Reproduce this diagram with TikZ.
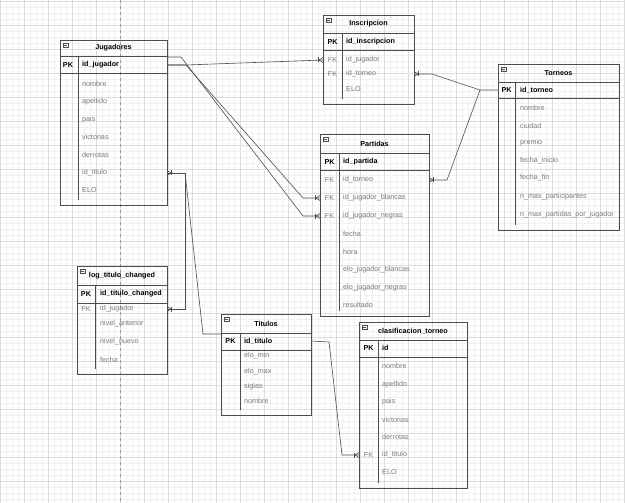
\documentclass[tikz,border=0pt]{standalone}
\usepackage{fontspec}
\setmainfont{Liberation Sans}
\definecolor{linec}{HTML}{4D4D4D}
\definecolor{txtgray}{HTML}{7A7A7A}
\definecolor{gridminor}{HTML}{F1F1F1}
\definecolor{gridmajor}{HTML}{DDDDDD}
\tikzset{
  tbl/.style={draw=linec, line width=0.7pt, anchor=north west, inner sep=0pt, outer sep=0pt},
  ttl/.style={font=\fontsize{7.2}{9}\selectfont\bfseries, text=black, inner sep=0pt},
  fld/.style={font=\fontsize{7.2}{9}\selectfont, text=txtgray, anchor=west, inner sep=0pt},
  pkf/.style={font=\fontsize{7.2}{9}\selectfont\bfseries, text=black, anchor=west, inner sep=0pt},
  keyl/.style={font=\fontsize{7.2}{9}\selectfont, text=txtgray, inner sep=0pt},
  pkl/.style={font=\fontsize{7.2}{9}\selectfont\bfseries, text=black, inner sep=0pt},
  sepl/.style={draw=linec, line width=0.7pt},
  conn/.style={draw=linec, line width=0.6pt},
}
% name, x1, x2, top, header bottom, pk bottom, bottom, divider x, title
\newcommand{\ertable}[9]{%
  \node[tbl, minimum width={#3-#2}, minimum height={#7-#4}] (#1) at (#2,#4) {};
  \draw[sepl] (#2,#5) -- (#3,#5);
  \draw[sepl, line width=1pt] (#2,#6) -- (#3,#6);
  \draw[sepl] (#8,#5) -- (#8,#7-5);
  \node[ttl] (#1-t) at ({(#2+#3)/2},{(#4+#5)/2}) {#9};
  \draw[linec, line width=0.4pt] (#2+3,#4+3) rectangle (#2+8,#4+7);
  \draw[linec, line width=0.4pt] (#2+4,#4+5) -- (#2+7,#4+5);
}
\newcommand{\crowL}[1]{%
  \draw[conn] ([shift={(0,-2.5)}]#1) -- ([shift={(-4,0)}]#1) -- ([shift={(0,2.5)}]#1);
  \draw[conn] ([shift={(-4.5,-2.5)}]#1) -- ([shift={(-4.5,2.5)}]#1);}
\newcommand{\crowR}[1]{%
  \draw[conn] ([shift={(0,-2.5)}]#1) -- ([shift={(4,0)}]#1) -- ([shift={(0,2.5)}]#1);
  \draw[conn] ([shift={(4.5,-2.5)}]#1) -- ([shift={(4.5,2.5)}]#1);}
\begin{document}
\begin{tikzpicture}[x=1pt, y=-1pt]
\useasboundingbox (0,0) rectangle (625,503);
\clip (0,0) rectangle (625,503);
\fill[white] (0,0) rectangle (625,503);
% grid
\foreach \x in {0,6,...,624} \draw[gridminor, line width=0.5pt] (\x,0) -- (\x,503);
\foreach \y in {1,7,...,503} \draw[gridminor, line width=0.5pt] (0,\y) -- (625,\y);
\foreach \x in {0,24,...,624} \draw[gridmajor, line width=0.5pt] (\x,0) -- (\x,503);
\foreach \y in {1,25,...,503} \draw[gridmajor, line width=0.5pt] (0,\y) -- (625,\y);
\draw[gray!80, line width=0.5pt, dash pattern=on 3pt off 3pt] (120,0) -- (120,503);

% ---------- Jugadores
\ertable{jug}{60}{167}{40}{56}{74}{205}{78}{Jugadores}
\node[pkl] (jug-k0) at (68,65) {PK};
\node[pkf] (jug-f0) at (82,65) {id\_jugador};
\node[fld] (jug-f1) at (82,84) {nombre};
\node[fld] (jug-f2) at (82,102) {apellido};
\node[fld] (jug-f3) at (82,120) {pais};
\node[fld] (jug-f4) at (82,137) {victorias};
\node[fld] (jug-f5) at (82,155) {derrotas};
\node[fld] (jug-f6) at (82,173) {id\_titulo};
\node[fld] (jug-f7) at (82,190) {ELO};

% ---------- Inscripcion
\ertable{ins}{323}{414}{15}{33}{51}{104}{342}{Inscripcion}
\node[pkl] (ins-k0) at (332.5,42) {PK};
\node[pkf] (ins-f0) at (346,42) {id\_inscripcion};
\node[keyl] (ins-k1) at (332.5,60) {FK};
\node[fld] (ins-f1) at (346,60) {id\_jugador};
\node[keyl] (ins-k2) at (332.5,74) {FK};
\node[fld] (ins-f2) at (346,74) {id\_torneo};
\node[fld] (ins-f3) at (346,89) {ELO};

% ---------- Torneos
\ertable{tor}{498}{619}{64}{82}{99}{230}{515}{Torneos}
\node[pkl] (tor-k0) at (506.5,90) {PK};
\node[pkf] (tor-f0) at (520,90) {id\_torneo};
\node[fld] (tor-f1) at (520,108) {nombre};
\node[fld] (tor-f2) at (520,126) {ciudad};
\node[fld] (tor-f3) at (520,143) {premio};
\node[fld] (tor-f4) at (520,161) {fecha\_inicio};
\node[fld] (tor-f5) at (520,178) {fecha\_fin};
\node[fld] (tor-f6) at (520,197) {n\_max\_participantes};
\node[fld] (tor-f7) at (520,215) {n\_max\_partidas\_por\_jugador};

% ---------- Partidas
\ertable{par}{320}{429}{134}{153}{171}{316}{339}{Partidas}
\node[pkl] (par-k0) at (329.5,162) {PK};
\node[pkf] (par-f0) at (343,162) {id\_partida};
\node[keyl] (par-k1) at (329.5,180) {FK};
\node[fld] (par-f1) at (343,180) {id\_torneo};
\node[keyl] (par-k2) at (329.5,198) {FK};
\node[fld] (par-f2) at (343,198) {id\_jugador\_blancas};
\node[keyl] (par-k3) at (329.5,216) {FK};
\node[fld] (par-f3) at (343,216) {id\_jugador\_negras};
\node[fld] (par-f4) at (343,234) {fecha};
\node[fld] (par-f5) at (343,252) {hora};
\node[fld] (par-f6) at (343,270) {elo\_jugador\_blancas};
\node[fld] (par-f7) at (343,288) {elo\_jugador\_negras};
\node[fld] (par-f8) at (343,305) {resultado};

% ---------- log_titulo_changed
\ertable{log}{77}{167}{266}{285}{303}{374}{95}{log\_titulo\_changed}
\node[pkl] (log-k0) at (86,294) {PK};
\node[pkf] (log-f0) at (100,294) {id\_titulo\_changed};
\node[keyl] (log-k1) at (86,309) {FK};
\node[fld] (log-f1) at (100,309) {id\_jugador};
\node[fld] (log-f2) at (100,324) {nivel\_anterior};
\node[fld] (log-f3) at (100,342) {nivel\_nuevo};
\node[fld] (log-f4) at (100,360) {fecha};

% ---------- Titulos
\ertable{tit}{221}{311}{314}{333}{350}{415}{240}{Titulos}
\node[pkl] (tit-k0) at (230.5,341) {PK};
\node[pkf] (tit-f0) at (244,341) {id\_titulo};
\node[fld] (tit-f1) at (244,356) {elo\_min};
\node[fld] (tit-f2) at (244,372) {elo\_max};
\node[fld] (tit-f3) at (244,387) {siglas};
\node[fld] (tit-f4) at (244,401) {nombre};

% ---------- clasificacion_torneo
\ertable{cla}{359}{467}{322}{340}{357}{488}{378}{clasificacion\_torneo}
\node[pkl] (cla-k0) at (368.5,348) {PK};
\node[pkf] (cla-f0) at (382,348) {id};
\node[fld] (cla-f1) at (382,366) {nombre};
\node[fld] (cla-f2) at (382,385) {apellido};
\node[fld] (cla-f3) at (382,402) {pais};
\node[fld] (cla-f4) at (382,420) {victorias};
\node[fld] (cla-f5) at (382,437) {derrotas};
\node[keyl] (cla-k6) at (368.5,455) {FK};
\node[fld] (cla-f6) at (382,455) {id\_titulo};
\node[fld] (cla-f7) at (382,472) {ELO};

% ---------- connector anchor coordinates
\coordinate (jugA) at (167,57);
\coordinate (jugB) at (jug.east |- jug-f0);
\coordinate (jugC) at (jug.east |- jug-f6);
\coordinate (insL) at (ins.west |- ins-f1);
\coordinate (insR) at (ins.east |- ins-f2);
\coordinate (torL) at (tor.west |- tor-f0);
\coordinate (parL2) at (par.west |- par-f2);
\coordinate (parL3) at (par.west |- par-f3);
\coordinate (parR1) at (par.east |- par-f1);
\coordinate (logR) at (log.east |- log-f1);
\coordinate (titL) at (221,334);
\coordinate (titR) at (tit.east |- tit-f0);
\coordinate (claL) at (cla.west |- cla-f6);
\coordinate (jbend) at (186,65);
\coordinate (tbend) at (480,90);
\coordinate (vbend) at (185,173);

% ---------- connectors
\draw[conn] (jugA) -- (181,57) -- (303,216) -- (parL3);
\draw[conn] (jugB) -- (jbend) -- (303,198) -- (parL2);
\draw[conn] (jugB) -- (jbend) -- (insL);
\draw[conn] (torL) -- (tbend) -- (432,74) -- (insR);
\draw[conn] (tbend) -- (447,180) -- (parR1);
\draw[conn] (jugC) -- (vbend) -- (185,309) -- (logR);
\draw[conn] (vbend) -- (203,334) -- (titL);
\draw[conn] (titR) -- (329,342) -- (342,455) -- (claL);

\crowL{insL}
\crowR{insR}
\crowL{parL2}
\crowL{parL3}
\crowR{parR1}
\crowR{jugC}
\crowR{logR}
\crowL{claL}
\end{tikzpicture}
\end{document}
